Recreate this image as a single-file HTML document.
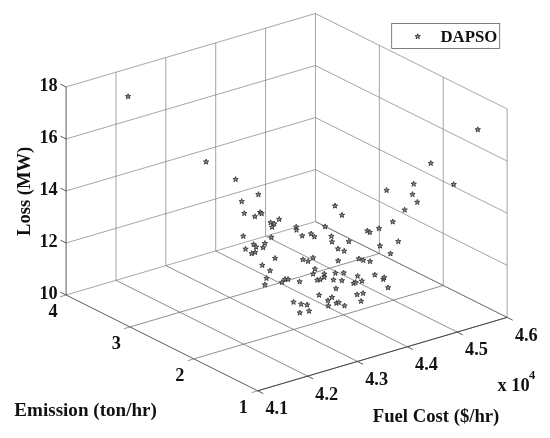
<!DOCTYPE html>
<html><head><meta charset="utf-8"><title>DAPSO Pareto front</title>
<style>html,body{margin:0;padding:0;background:#fff}svg{display:block}</style></head>
<body>
<svg width="550" height="438" viewBox="0 0 550 438">
<rect width="550" height="438" fill="#fff"/>
<g fill="none" shape-rendering="auto">
<line x1="115.97" y1="280.32" x2="115.97" y2="72.22" stroke="#868686" stroke-width="0.75"/>
<line x1="165.84" y1="265.64" x2="165.84" y2="57.54" stroke="#868686" stroke-width="0.75"/>
<line x1="215.71" y1="250.96" x2="215.71" y2="42.86" stroke="#868686" stroke-width="0.75"/>
<line x1="265.58" y1="236.28" x2="265.58" y2="28.18" stroke="#868686" stroke-width="0.75"/>
<line x1="315.45" y1="221.60" x2="315.45" y2="13.50" stroke="#868686" stroke-width="0.75"/>
<line x1="379.33" y1="253.53" x2="379.33" y2="45.32" stroke="#868686" stroke-width="0.75"/>
<line x1="443.22" y1="285.47" x2="443.22" y2="77.13" stroke="#868686" stroke-width="0.75"/>
<line x1="507.10" y1="317.40" x2="507.10" y2="108.95" stroke="#868686" stroke-width="0.75"/>
<line x1="66.10" y1="295.00" x2="315.45" y2="221.60" stroke="#888" stroke-width="0.75"/>
<line x1="315.45" y1="221.60" x2="507.10" y2="317.40" stroke="#888" stroke-width="0.75"/>
<line x1="66.10" y1="242.97" x2="315.45" y2="169.57" stroke="#888" stroke-width="0.75"/>
<line x1="315.45" y1="169.57" x2="507.10" y2="265.29" stroke="#888" stroke-width="0.75"/>
<line x1="66.10" y1="190.95" x2="315.45" y2="117.55" stroke="#888" stroke-width="0.75"/>
<line x1="315.45" y1="117.55" x2="507.10" y2="213.17" stroke="#888" stroke-width="0.75"/>
<line x1="66.10" y1="138.93" x2="315.45" y2="65.53" stroke="#888" stroke-width="0.75"/>
<line x1="315.45" y1="65.53" x2="507.10" y2="161.06" stroke="#888" stroke-width="0.75"/>
<line x1="66.10" y1="86.90" x2="315.45" y2="13.50" stroke="#888" stroke-width="0.75"/>
<line x1="315.45" y1="13.50" x2="507.10" y2="108.95" stroke="#888" stroke-width="0.75"/>
<line x1="115.97" y1="280.32" x2="307.58" y2="376.12" stroke="#6a6a6a" stroke-width="0.75"/>
<line x1="165.84" y1="265.64" x2="357.46" y2="361.44" stroke="#6a6a6a" stroke-width="0.75"/>
<line x1="215.71" y1="250.96" x2="407.34" y2="346.76" stroke="#6a6a6a" stroke-width="0.75"/>
<line x1="265.58" y1="236.28" x2="457.22" y2="332.08" stroke="#6a6a6a" stroke-width="0.75"/>
<line x1="315.45" y1="221.60" x2="507.10" y2="317.40" stroke="#6a6a6a" stroke-width="0.75"/>
<line x1="129.97" y1="326.93" x2="379.33" y2="253.53" stroke="#6a6a6a" stroke-width="0.75"/>
<line x1="193.83" y1="358.87" x2="443.22" y2="285.47" stroke="#6a6a6a" stroke-width="0.75"/>
<line x1="257.70" y1="390.80" x2="507.10" y2="317.40" stroke="#6a6a6a" stroke-width="0.75"/>
<line x1="66.10" y1="295.00" x2="66.10" y2="86.90" stroke="#4a4a4a" stroke-width="0.9"/>
<line x1="66.10" y1="295.00" x2="257.70" y2="390.80" stroke="#3c3c3c" stroke-width="0.85"/>
<line x1="257.70" y1="390.80" x2="507.10" y2="317.40" stroke="#3c3c3c" stroke-width="0.85"/>
<line x1="66.10" y1="295.00" x2="60.47" y2="292.18" stroke="#3c3c3c" stroke-width="0.85"/>
<line x1="66.10" y1="242.97" x2="60.47" y2="240.16" stroke="#3c3c3c" stroke-width="0.85"/>
<line x1="66.10" y1="190.95" x2="60.47" y2="188.13" stroke="#3c3c3c" stroke-width="0.85"/>
<line x1="66.10" y1="138.93" x2="60.47" y2="136.11" stroke="#3c3c3c" stroke-width="0.85"/>
<line x1="66.10" y1="86.90" x2="60.47" y2="84.08" stroke="#3c3c3c" stroke-width="0.85"/>
<line x1="257.70" y1="390.80" x2="251.66" y2="392.58" stroke="#777" stroke-width="0.8"/>
<line x1="193.83" y1="358.87" x2="187.79" y2="360.65" stroke="#777" stroke-width="0.8"/>
<line x1="129.97" y1="326.93" x2="123.92" y2="328.71" stroke="#777" stroke-width="0.8"/>
<line x1="66.10" y1="295.00" x2="60.06" y2="296.78" stroke="#777" stroke-width="0.8"/>
<line x1="257.70" y1="390.80" x2="263.33" y2="393.62" stroke="#3c3c3c" stroke-width="0.85"/>
<line x1="307.58" y1="376.12" x2="313.21" y2="378.94" stroke="#3c3c3c" stroke-width="0.85"/>
<line x1="357.46" y1="361.44" x2="363.09" y2="364.26" stroke="#3c3c3c" stroke-width="0.85"/>
<line x1="407.34" y1="346.76" x2="412.97" y2="349.58" stroke="#3c3c3c" stroke-width="0.85"/>
<line x1="457.22" y1="332.08" x2="462.85" y2="334.90" stroke="#3c3c3c" stroke-width="0.85"/>
<line x1="507.10" y1="317.40" x2="512.73" y2="320.22" stroke="#3c3c3c" stroke-width="0.85"/>
</g>
<rect x="391.7" y="23.5" width="108.0" height="25.0" fill="#fff" stroke="#5e5e5e" stroke-width="0.8"/>
<g fill="#909090" stroke="#2e2e2e" stroke-width="0.85" stroke-linejoin="miter">
<polygon points="128.10,93.70 128.76,95.59 130.76,95.63 129.17,96.85 129.75,98.77 128.10,97.62 126.45,98.77 127.03,96.85 125.44,95.63 127.44,95.59"/>
<polygon points="206.10,159.10 206.76,160.99 208.76,161.03 207.17,162.25 207.75,164.17 206.10,163.02 204.45,164.17 205.03,162.25 203.44,161.03 205.44,160.99"/>
<polygon points="235.60,176.60 236.26,178.49 238.26,178.53 236.67,179.75 237.25,181.67 235.60,180.52 233.95,181.67 234.53,179.75 232.94,178.53 234.94,178.49"/>
<polygon points="258.40,191.70 259.06,193.59 261.06,193.63 259.47,194.85 260.05,196.77 258.40,195.62 256.75,196.77 257.33,194.85 255.74,193.63 257.74,193.59"/>
<polygon points="241.70,198.70 242.36,200.59 244.36,200.63 242.77,201.85 243.35,203.77 241.70,202.62 240.05,203.77 240.63,201.85 239.04,200.63 241.04,200.59"/>
<polygon points="244.30,210.60 244.96,212.49 246.96,212.53 245.37,213.75 245.95,215.67 244.30,214.52 242.65,215.67 243.23,213.75 241.64,212.53 243.64,212.49"/>
<polygon points="254.90,213.80 255.56,215.69 257.56,215.73 255.97,216.95 256.55,218.87 254.90,217.72 253.25,218.87 253.83,216.95 252.24,215.73 254.24,215.69"/>
<polygon points="260.10,209.60 260.76,211.49 262.76,211.53 261.17,212.75 261.75,214.67 260.10,213.52 258.45,214.67 259.03,212.75 257.44,211.53 259.44,211.49"/>
<polygon points="261.60,210.80 262.26,212.69 264.26,212.73 262.67,213.95 263.25,215.87 261.60,214.72 259.95,215.87 260.53,213.95 258.94,212.73 260.94,212.69"/>
<polygon points="279.20,216.50 279.86,218.39 281.86,218.43 280.27,219.65 280.85,221.57 279.20,220.42 277.55,221.57 278.13,219.65 276.54,218.43 278.54,218.39"/>
<polygon points="270.60,219.80 271.26,221.69 273.26,221.73 271.67,222.95 272.25,224.87 270.60,223.72 268.95,224.87 269.53,222.95 267.94,221.73 269.94,221.69"/>
<polygon points="274.20,221.00 274.86,222.89 276.86,222.93 275.27,224.15 275.85,226.07 274.20,224.92 272.55,226.07 273.13,224.15 271.54,222.93 273.54,222.89"/>
<polygon points="272.10,224.30 272.76,226.19 274.76,226.23 273.17,227.45 273.75,229.37 272.10,228.22 270.45,229.37 271.03,227.45 269.44,226.23 271.44,226.19"/>
<polygon points="296.20,224.20 296.86,226.09 298.86,226.13 297.27,227.35 297.85,229.27 296.20,228.12 294.55,229.27 295.13,227.35 293.54,226.13 295.54,226.09"/>
<polygon points="296.50,227.20 297.16,229.09 299.16,229.13 297.57,230.35 298.15,232.27 296.50,231.12 294.85,232.27 295.43,230.35 293.84,229.13 295.84,229.09"/>
<polygon points="243.30,233.40 243.96,235.29 245.96,235.33 244.37,236.55 244.95,238.47 243.30,237.32 241.65,238.47 242.23,236.55 240.64,235.33 242.64,235.29"/>
<polygon points="271.40,234.50 272.06,236.39 274.06,236.43 272.47,237.65 273.05,239.57 271.40,238.42 269.75,239.57 270.33,237.65 268.74,236.43 270.74,236.39"/>
<polygon points="253.60,241.60 254.26,243.49 256.26,243.53 254.67,244.75 255.25,246.67 253.60,245.52 251.95,246.67 252.53,244.75 250.94,243.53 252.94,243.49"/>
<polygon points="256.10,244.30 256.76,246.19 258.76,246.23 257.17,247.45 257.75,249.37 256.10,248.22 254.45,249.37 255.03,247.45 253.44,246.23 255.44,246.19"/>
<polygon points="264.90,240.60 265.56,242.49 267.56,242.53 265.97,243.75 266.55,245.67 264.90,244.52 263.25,245.67 263.83,243.75 262.24,242.53 264.24,242.49"/>
<polygon points="263.10,244.80 263.76,246.69 265.76,246.73 264.17,247.95 264.75,249.87 263.10,248.72 261.45,249.87 262.03,247.95 260.44,246.73 262.44,246.69"/>
<polygon points="245.50,246.30 246.16,248.19 248.16,248.23 246.57,249.45 247.15,251.37 245.50,250.22 243.85,251.37 244.43,249.45 242.84,248.23 244.84,248.19"/>
<polygon points="251.60,250.80 252.26,252.69 254.26,252.73 252.67,253.95 253.25,255.87 251.60,254.72 249.95,255.87 250.53,253.95 248.94,252.73 250.94,252.69"/>
<polygon points="255.10,249.60 255.76,251.49 257.76,251.53 256.17,252.75 256.75,254.67 255.10,253.52 253.45,254.67 254.03,252.75 252.44,251.53 254.44,251.49"/>
<polygon points="275.10,255.50 275.76,257.39 277.76,257.43 276.17,258.65 276.75,260.57 275.10,259.42 273.45,260.57 274.03,258.65 272.44,257.43 274.44,257.39"/>
<polygon points="262.30,262.50 262.96,264.39 264.96,264.43 263.37,265.65 263.95,267.57 262.30,266.42 260.65,267.57 261.23,265.65 259.64,264.43 261.64,264.39"/>
<polygon points="270.10,267.90 270.76,269.79 272.76,269.83 271.17,271.05 271.75,272.97 270.10,271.82 268.45,272.97 269.03,271.05 267.44,269.83 269.44,269.79"/>
<polygon points="266.50,275.50 267.16,277.39 269.16,277.43 267.57,278.65 268.15,280.57 266.50,279.42 264.85,280.57 265.43,278.65 263.84,277.43 265.84,277.39"/>
<polygon points="264.90,281.90 265.56,283.79 267.56,283.83 265.97,285.05 266.55,286.97 264.90,285.82 263.25,286.97 263.83,285.05 262.24,283.83 264.24,283.79"/>
<polygon points="282.00,279.50 282.66,281.39 284.66,281.43 283.07,282.65 283.65,284.57 282.00,283.42 280.35,284.57 280.93,282.65 279.34,281.43 281.34,281.39"/>
<polygon points="285.00,276.50 285.66,278.39 287.66,278.43 286.07,279.65 286.65,281.57 285.00,280.42 283.35,281.57 283.93,279.65 282.34,278.43 284.34,278.39"/>
<polygon points="288.00,276.50 288.66,278.39 290.66,278.43 289.07,279.65 289.65,281.57 288.00,280.42 286.35,281.57 286.93,279.65 285.34,278.43 287.34,278.39"/>
<polygon points="299.60,278.90 300.26,280.79 302.26,280.83 300.67,282.05 301.25,283.97 299.60,282.82 297.95,283.97 298.53,282.05 296.94,280.83 298.94,280.79"/>
<polygon points="293.50,299.30 294.16,301.19 296.16,301.23 294.57,302.45 295.15,304.37 293.50,303.22 291.85,304.37 292.43,302.45 290.84,301.23 292.84,301.19"/>
<polygon points="299.80,310.00 300.46,311.89 302.46,311.93 300.87,313.15 301.45,315.07 299.80,313.92 298.15,315.07 298.73,313.15 297.14,311.93 299.14,311.89"/>
<polygon points="386.60,187.50 387.26,189.39 389.26,189.43 387.67,190.65 388.25,192.57 386.60,191.42 384.95,192.57 385.53,190.65 383.94,189.43 385.94,189.39"/>
<polygon points="335.00,203.10 335.66,204.99 337.66,205.03 336.07,206.25 336.65,208.17 335.00,207.02 333.35,208.17 333.93,206.25 332.34,205.03 334.34,204.99"/>
<polygon points="342.00,212.40 342.66,214.29 344.66,214.33 343.07,215.55 343.65,217.47 342.00,216.32 340.35,217.47 340.93,215.55 339.34,214.33 341.34,214.29"/>
<polygon points="392.80,219.00 393.46,220.89 395.46,220.93 393.87,222.15 394.45,224.07 392.80,222.92 391.15,224.07 391.73,222.15 390.14,220.93 392.14,220.89"/>
<polygon points="325.10,223.90 325.76,225.79 327.76,225.83 326.17,227.05 326.75,228.97 325.10,227.82 323.45,228.97 324.03,227.05 322.44,225.83 324.44,225.79"/>
<polygon points="379.00,225.70 379.66,227.59 381.66,227.63 380.07,228.85 380.65,230.77 379.00,229.62 377.35,230.77 377.93,228.85 376.34,227.63 378.34,227.59"/>
<polygon points="367.30,228.10 367.96,229.99 369.96,230.03 368.37,231.25 368.95,233.17 367.30,232.02 365.65,233.17 366.23,231.25 364.64,230.03 366.64,229.99"/>
<polygon points="369.80,229.60 370.46,231.49 372.46,231.53 370.87,232.75 371.45,234.67 369.80,233.52 368.15,234.67 368.73,232.75 367.14,231.53 369.14,231.49"/>
<polygon points="302.20,233.00 302.86,234.89 304.86,234.93 303.27,236.15 303.85,238.07 302.20,236.92 300.55,238.07 301.13,236.15 299.54,234.93 301.54,234.89"/>
<polygon points="311.10,231.00 311.76,232.89 313.76,232.93 312.17,234.15 312.75,236.07 311.10,234.92 309.45,236.07 310.03,234.15 308.44,232.93 310.44,232.89"/>
<polygon points="314.40,234.00 315.06,235.89 317.06,235.93 315.47,237.15 316.05,239.07 314.40,237.92 312.75,239.07 313.33,237.15 311.74,235.93 313.74,235.89"/>
<polygon points="331.40,233.50 332.06,235.39 334.06,235.43 332.47,236.65 333.05,238.57 331.40,237.42 329.75,238.57 330.33,236.65 328.74,235.43 330.74,235.39"/>
<polygon points="332.00,239.10 332.66,240.99 334.66,241.03 333.07,242.25 333.65,244.17 332.00,243.02 330.35,244.17 330.93,242.25 329.34,241.03 331.34,240.99"/>
<polygon points="338.00,246.00 338.66,247.89 340.66,247.93 339.07,249.15 339.65,251.07 338.00,249.92 336.35,251.07 336.93,249.15 335.34,247.93 337.34,247.89"/>
<polygon points="344.20,248.30 344.86,250.19 346.86,250.23 345.27,251.45 345.85,253.37 344.20,252.22 342.55,253.37 343.13,251.45 341.54,250.23 343.54,250.19"/>
<polygon points="338.20,258.00 338.86,259.89 340.86,259.93 339.27,261.15 339.85,263.07 338.20,261.92 336.55,263.07 337.13,261.15 335.54,259.93 337.54,259.89"/>
<polygon points="313.10,255.00 313.76,256.89 315.76,256.93 314.17,258.15 314.75,260.07 313.10,258.92 311.45,260.07 312.03,258.15 310.44,256.93 312.44,256.89"/>
<polygon points="302.90,256.80 303.56,258.69 305.56,258.73 303.97,259.95 304.55,261.87 302.90,260.72 301.25,261.87 301.83,259.95 300.24,258.73 302.24,258.69"/>
<polygon points="308.10,258.50 308.76,260.39 310.76,260.43 309.17,261.65 309.75,263.57 308.10,262.42 306.45,263.57 307.03,261.65 305.44,260.43 307.44,260.39"/>
<polygon points="314.90,266.20 315.56,268.09 317.56,268.13 315.97,269.35 316.55,271.27 314.90,270.12 313.25,271.27 313.83,269.35 312.24,268.13 314.24,268.09"/>
<polygon points="313.10,271.20 313.76,273.09 315.76,273.13 314.17,274.35 314.75,276.27 313.10,275.12 311.45,276.27 312.03,274.35 310.44,273.13 312.44,273.09"/>
<polygon points="324.30,271.20 324.96,273.09 326.96,273.13 325.37,274.35 325.95,276.27 324.30,275.12 322.65,276.27 323.23,274.35 321.64,273.13 323.64,273.09"/>
<polygon points="324.30,274.50 324.96,276.39 326.96,276.43 325.37,277.65 325.95,279.57 324.30,278.42 322.65,279.57 323.23,277.65 321.64,276.43 323.64,276.39"/>
<polygon points="317.30,277.30 317.96,279.19 319.96,279.23 318.37,280.45 318.95,282.37 317.30,281.22 315.65,282.37 316.23,280.45 314.64,279.23 316.64,279.19"/>
<polygon points="320.30,276.80 320.96,278.69 322.96,278.73 321.37,279.95 321.95,281.87 320.30,280.72 318.65,281.87 319.23,279.95 317.64,278.73 319.64,278.69"/>
<polygon points="335.40,270.40 336.06,272.29 338.06,272.33 336.47,273.55 337.05,275.47 335.40,274.32 333.75,275.47 334.33,273.55 332.74,272.33 334.74,272.29"/>
<polygon points="343.70,270.10 344.36,271.99 346.36,272.03 344.77,273.25 345.35,275.17 343.70,274.02 342.05,275.17 342.63,273.25 341.04,272.03 343.04,271.99"/>
<polygon points="333.50,277.10 334.16,278.99 336.16,279.03 334.57,280.25 335.15,282.17 333.50,281.02 331.85,282.17 332.43,280.25 330.84,279.03 332.84,278.99"/>
<polygon points="341.90,277.80 342.56,279.69 344.56,279.73 342.97,280.95 343.55,282.87 341.90,281.72 340.25,282.87 340.83,280.95 339.24,279.73 341.24,279.69"/>
<polygon points="336.00,285.80 336.66,287.69 338.66,287.73 337.07,288.95 337.65,290.87 336.00,289.72 334.35,290.87 334.93,288.95 333.34,287.73 335.34,287.69"/>
<polygon points="319.10,292.30 319.76,294.19 321.76,294.23 320.17,295.45 320.75,297.37 319.10,296.22 317.45,297.37 318.03,295.45 316.44,294.23 318.44,294.19"/>
<polygon points="332.00,294.60 332.66,296.49 334.66,296.53 333.07,297.75 333.65,299.67 332.00,298.52 330.35,299.67 330.93,297.75 329.34,296.53 331.34,296.49"/>
<polygon points="328.00,297.80 328.66,299.69 330.66,299.73 329.07,300.95 329.65,302.87 328.00,301.72 326.35,302.87 326.93,300.95 325.34,299.73 327.34,299.69"/>
<polygon points="328.40,303.10 329.06,304.99 331.06,305.03 329.47,306.25 330.05,308.17 328.40,307.02 326.75,308.17 327.33,306.25 325.74,305.03 327.74,304.99"/>
<polygon points="336.40,300.40 337.06,302.29 339.06,302.33 337.47,303.55 338.05,305.47 336.40,304.32 334.75,305.47 335.33,303.55 333.74,302.33 335.74,302.29"/>
<polygon points="338.70,299.70 339.36,301.59 341.36,301.63 339.77,302.85 340.35,304.77 338.70,303.62 337.05,304.77 337.63,302.85 336.04,301.63 338.04,301.59"/>
<polygon points="344.50,303.00 345.16,304.89 347.16,304.93 345.57,306.15 346.15,308.07 344.50,306.92 342.85,308.07 343.43,306.15 341.84,304.93 343.84,304.89"/>
<polygon points="301.20,301.40 301.86,303.29 303.86,303.33 302.27,304.55 302.85,306.47 301.20,305.32 299.55,306.47 300.13,304.55 298.54,303.33 300.54,303.29"/>
<polygon points="307.10,302.10 307.76,303.99 309.76,304.03 308.17,305.25 308.75,307.17 307.10,306.02 305.45,307.17 306.03,305.25 304.44,304.03 306.44,303.99"/>
<polygon points="309.10,308.30 309.76,310.19 311.76,310.23 310.17,311.45 310.75,313.37 309.10,312.22 307.45,313.37 308.03,311.45 306.44,310.23 308.44,310.19"/>
<polygon points="348.80,238.80 349.46,240.69 351.46,240.73 349.87,241.95 350.45,243.87 348.80,242.72 347.15,243.87 347.73,241.95 346.14,240.73 348.14,240.69"/>
<polygon points="380.00,243.10 380.66,244.99 382.66,245.03 381.07,246.25 381.65,248.17 380.00,247.02 378.35,248.17 378.93,246.25 377.34,245.03 379.34,244.99"/>
<polygon points="390.50,250.90 391.16,252.79 393.16,252.83 391.57,254.05 392.15,255.97 390.50,254.82 388.85,255.97 389.43,254.05 387.84,252.83 389.84,252.79"/>
<polygon points="358.90,256.00 359.56,257.89 361.56,257.93 359.97,259.15 360.55,261.07 358.90,259.92 357.25,261.07 357.83,259.15 356.24,257.93 358.24,257.89"/>
<polygon points="363.30,257.50 363.96,259.39 365.96,259.43 364.37,260.65 364.95,262.57 363.30,261.42 361.65,262.57 362.23,260.65 360.64,259.43 362.64,259.39"/>
<polygon points="370.10,258.60 370.76,260.49 372.76,260.53 371.17,261.75 371.75,263.67 370.10,262.52 368.45,263.67 369.03,261.75 367.44,260.53 369.44,260.49"/>
<polygon points="357.60,273.30 358.26,275.19 360.26,275.23 358.67,276.45 359.25,278.37 357.60,277.22 355.95,278.37 356.53,276.45 354.94,275.23 356.94,275.19"/>
<polygon points="361.90,278.30 362.56,280.19 364.56,280.23 362.97,281.45 363.55,283.37 361.90,282.22 360.25,283.37 360.83,281.45 359.24,280.23 361.24,280.19"/>
<polygon points="353.60,280.60 354.26,282.49 356.26,282.53 354.67,283.75 355.25,285.67 353.60,284.52 351.95,285.67 352.53,283.75 350.94,282.53 352.94,282.49"/>
<polygon points="355.60,279.60 356.26,281.49 358.26,281.53 356.67,282.75 357.25,284.67 355.60,283.52 353.95,284.67 354.53,282.75 352.94,281.53 354.94,281.49"/>
<polygon points="374.80,272.10 375.46,273.99 377.46,274.03 375.87,275.25 376.45,277.17 374.80,276.02 373.15,277.17 373.73,275.25 372.14,274.03 374.14,273.99"/>
<polygon points="383.30,276.50 383.96,278.39 385.96,278.43 384.37,279.65 384.95,281.57 383.30,280.42 381.65,281.57 382.23,279.65 380.64,278.43 382.64,278.39"/>
<polygon points="384.20,274.70 384.86,276.59 386.86,276.63 385.27,277.85 385.85,279.77 384.20,278.62 382.55,279.77 383.13,277.85 381.54,276.63 383.54,276.59"/>
<polygon points="388.10,284.90 388.76,286.79 390.76,286.83 389.17,288.05 389.75,289.97 388.10,288.82 386.45,289.97 387.03,288.05 385.44,286.83 387.44,286.79"/>
<polygon points="357.10,291.80 357.76,293.69 359.76,293.73 358.17,294.95 358.75,296.87 357.10,295.72 355.45,296.87 356.03,294.95 354.44,293.73 356.44,293.69"/>
<polygon points="363.10,290.50 363.76,292.39 365.76,292.43 364.17,293.65 364.75,295.57 363.10,294.42 361.45,295.57 362.03,293.65 360.44,292.43 362.44,292.39"/>
<polygon points="361.10,298.40 361.76,300.29 363.76,300.33 362.17,301.55 362.75,303.47 361.10,302.32 359.45,303.47 360.03,301.55 358.44,300.33 360.44,300.29"/>
<polygon points="477.80,126.80 478.46,128.69 480.46,128.73 478.87,129.95 479.45,131.87 477.80,130.72 476.15,131.87 476.73,129.95 475.14,128.73 477.14,128.69"/>
<polygon points="430.80,160.50 431.46,162.39 433.46,162.43 431.87,163.65 432.45,165.57 430.80,164.42 429.15,165.57 429.73,163.65 428.14,162.43 430.14,162.39"/>
<polygon points="453.70,181.60 454.36,183.49 456.36,183.53 454.77,184.75 455.35,186.67 453.70,185.52 452.05,186.67 452.63,184.75 451.04,183.53 453.04,183.49"/>
<polygon points="413.70,181.20 414.36,183.09 416.36,183.13 414.77,184.35 415.35,186.27 413.70,185.12 412.05,186.27 412.63,184.35 411.04,183.13 413.04,183.09"/>
<polygon points="412.50,191.60 413.16,193.49 415.16,193.53 413.57,194.75 414.15,196.67 412.50,195.52 410.85,196.67 411.43,194.75 409.84,193.53 411.84,193.49"/>
<polygon points="417.30,199.40 417.96,201.29 419.96,201.33 418.37,202.55 418.95,204.47 417.30,203.32 415.65,204.47 416.23,202.55 414.64,201.33 416.64,201.29"/>
<polygon points="404.70,207.20 405.36,209.09 407.36,209.13 405.77,210.35 406.35,212.27 404.70,211.12 403.05,212.27 403.63,210.35 402.04,209.13 404.04,209.09"/>
<polygon points="398.30,238.70 398.96,240.59 400.96,240.63 399.37,241.85 399.95,243.77 398.30,242.62 396.65,243.77 397.23,241.85 395.64,240.63 397.64,240.59"/>
<polygon points="417.70,33.70 418.36,35.59 420.36,35.63 418.77,36.85 419.35,38.77 417.70,37.62 416.05,38.77 416.63,36.85 415.04,35.63 417.04,35.59"/>
</g>
<g font-family="'Liberation Serif', serif" font-weight="bold" fill="#111">
<text x="39.400000000000006" y="298.6" font-size="18.3" text-anchor="start" textLength="18.3" lengthAdjust="spacingAndGlyphs">10</text>
<text x="39.400000000000006" y="246.57500000000002" font-size="18.3" text-anchor="start" textLength="18.3" lengthAdjust="spacingAndGlyphs">12</text>
<text x="39.400000000000006" y="194.55" font-size="18.3" text-anchor="start" textLength="18.3" lengthAdjust="spacingAndGlyphs">14</text>
<text x="39.400000000000006" y="142.52500000000003" font-size="18.3" text-anchor="start" textLength="18.3" lengthAdjust="spacingAndGlyphs">16</text>
<text x="39.400000000000006" y="90.50000000000003" font-size="18.3" text-anchor="start" textLength="18.3" lengthAdjust="spacingAndGlyphs">18</text>
<text x="48.449999999999996" y="316.9" font-size="18.3" text-anchor="start" textLength="9.15" lengthAdjust="spacingAndGlyphs">4</text>
<text x="111.64999999999999" y="349.2" font-size="18.3" text-anchor="start" textLength="9.15" lengthAdjust="spacingAndGlyphs">3</text>
<text x="175.15" y="380.8" font-size="18.3" text-anchor="start" textLength="9.15" lengthAdjust="spacingAndGlyphs">2</text>
<text x="238.75" y="412.59999999999997" font-size="18.3" text-anchor="start" textLength="9.15" lengthAdjust="spacingAndGlyphs">1</text>
<text x="265.4" y="414.2" font-size="18.3" text-anchor="start" textLength="22.875" lengthAdjust="spacingAndGlyphs">4.1</text>
<text x="315.29999999999995" y="399.52" font-size="18.3" text-anchor="start" textLength="22.875" lengthAdjust="spacingAndGlyphs">4.2</text>
<text x="365.2" y="384.84" font-size="18.3" text-anchor="start" textLength="22.875" lengthAdjust="spacingAndGlyphs">4.3</text>
<text x="415.09999999999997" y="370.15999999999997" font-size="18.3" text-anchor="start" textLength="22.875" lengthAdjust="spacingAndGlyphs">4.4</text>
<text x="465.0" y="355.48" font-size="18.3" text-anchor="start" textLength="22.875" lengthAdjust="spacingAndGlyphs">4.5</text>
<text x="514.9" y="340.79999999999995" font-size="18.3" text-anchor="start" textLength="22.875" lengthAdjust="spacingAndGlyphs">4.6</text>
<text x="14.3" y="416.2" font-size="19" text-anchor="start" textLength="142.6" lengthAdjust="spacingAndGlyphs">Emission (ton/hr)</text>
<text x="372.8" y="422.3" font-size="19" text-anchor="start" textLength="126.5" lengthAdjust="spacingAndGlyphs">Fuel Cost ($/hr)</text>
<text x="497.4" y="391.2" font-size="18.3" text-anchor="start" textLength="32.2" lengthAdjust="spacingAndGlyphs">x 10</text>
<text x="528.9" y="378.8" font-size="12.4" text-anchor="start">4</text>
<text x="440.5" y="41.9" font-size="17.3" text-anchor="start" textLength="56.8" lengthAdjust="spacingAndGlyphs">DAPSO</text>
<text transform="translate(30.1,235.9) rotate(-90)" font-size="19" textLength="89.2" lengthAdjust="spacingAndGlyphs">Loss (MW)</text>
</g>
</svg>
</body></html>
